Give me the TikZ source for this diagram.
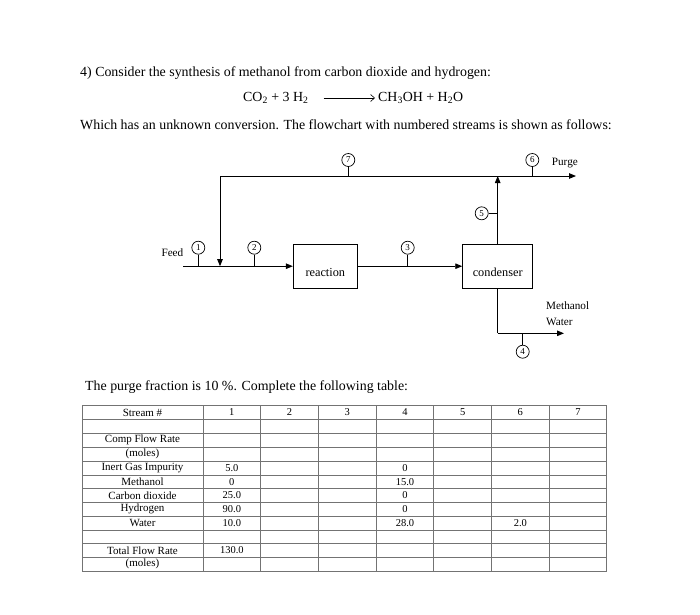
\documentclass[tikz,border=0pt]{standalone}
\usepackage{fontspec}
\setmainfont{Liberation Serif}
\usetikzlibrary{arrows.meta}

\tikzset{
  txt/.style={inner sep=0pt, font=\fontsize{13.9}{16}\selectfont},
  unit/.style={draw, line width=0.9pt, minimum height=44pt, inner sep=0pt, font=\fontsize{12.3}{14}\selectfont},
  streamno/.style={draw, circle, line width=0.7pt, inner sep=0pt, minimum size=13pt, font=\fontsize{9}{10}\selectfont},
  lbl/.style={inner sep=0pt, font=\fontsize{11.2}{13}\selectfont},
  flow/.style={line width=0.9pt, -{Triangle[length=7pt,width=5.5pt]}},
  pipe/.style={line width=0.9pt},
  grid/.style={line width=0.9pt, black!55},
  cell/.style={inner sep=0pt, font=\fontsize{11}{13}\selectfont},
  num/.style={inner sep=0pt, font=\fontsize{10.5}{12}\selectfont}
}
\newcommand{\lowtext}[1]{\raisebox{0pt}[\dimexpr\height+12pt\relax]{#1}}

\begin{document}
\begin{tikzpicture}[x=1pt,y=-1pt]
  \useasboundingbox (0,0) rectangle (700,614);

  % Enunciado
  \node[txt, anchor=west] (q4) at (80,73) {4) Consider the synthesis of methanol from carbon dioxide and hydrogen:};
  \node[txt, anchor=west] (lhs) at (243,98) {CO\textsubscript{2} + 3 H\textsubscript{2}};
  \node[txt, anchor=west] (rhs) at (378,98) {CH\textsubscript{3}OH + H\textsubscript{2}O};
  \draw[line width=0.6pt, -{Straight Barb[length=4pt,width=7pt]}] ([xshift=15pt]lhs.east) -- ([xshift=-3pt]rhs.west);
  \node[txt, anchor=west] (which) at (80,125) {Which has an unknown conversion. The flowchart with numbered streams is shown as follows:};

  % Equipos
  \node[unit, minimum width=64pt] (reaction) at (325.3,266.2) {\lowtext{reaction}};
  \node[unit, minimum width=70pt] (condenser) at (497.7,266.2) {\lowtext{condenser}};

  % Puntos de las corrientes
  \coordinate (feed) at (183,266.2);
  \coordinate (mix) at (220,266.2);
  \coordinate (recyc) at (220,176);
  \coordinate (split) at (497.7,176);
  \coordinate (purge) at (576,176);
  \coordinate (bottom) at (497.7,333.3);
  \coordinate (liquid) at (564,333.3);

  % Lineas de flujo
  \draw[pipe] (feed) -- (mix);
  \draw[flow] (mix) -- (reaction);
  \draw[flow] (reaction) -- (condenser);
  \draw[flow] (condenser) -- (split);
  \draw[flow] (split) -- (purge);
  \draw[pipe] (split) -- (recyc);
  \draw[flow] (recyc) -- (mix);
  \draw[pipe] (condenser) -- (bottom);
  \draw[flow] (bottom) -- (liquid);

  % Numeros de corriente
  \node[streamno] (s1) at (198.3,247.7) {1};
  \node[streamno] (s2) at (254.3,247.7) {2};
  \node[streamno] (s3) at (407.7,247.7) {3};
  \node[streamno] (s4) at (522.7,351.7) {4};
  \node[streamno] (s5) at (481.7,213.3) {5};
  \node[streamno] (s6) at (532.3,160) {6};
  \node[streamno] (s7) at (348.3,160) {7};
  \draw[pipe] (s1) -- (s1 |- feed);
  \draw[pipe] (s2) -- (s2 |- feed);
  \draw[pipe] (s3) -- (s3 |- feed);
  \draw[pipe] (s4) -- (s4 |- bottom);
  \draw[pipe] (s5) -- (s5 -| split);
  \draw[pipe] (s6) -- (s6 |- split);
  \draw[pipe] (s7) -- (s7 |- split);

  % Etiquetas
  \node[lbl, anchor=east] (feedlbl) at (183.5,252.7) {Feed};
  \node[lbl, anchor=west] (purgelbl) at (551.7,163.3) {Purge};
  \node[lbl, anchor=west] (methlbl) at (546,306) {Methanol};
  \node[lbl, anchor=west] (waterlbl) at (546,321.7) {Water};

  % Tabla
  \node[txt, anchor=west] (purgetxt) at (85,387) {The purge fraction is 10 \%. Complete the following table:};
  \foreach \x in {82,203,260.7,318.4,376.1,433.8,491.5,549.2,606.9}
    \draw[grid] (\x,405.5) -- (\x,571);
  \foreach \y in {405.5,419.5,433,447,461,475,488.5,502,516,530,543.5,557,571}
    \draw[grid] (82,\y) -- (606.9,\y);

  \node[cell] (stream) at (142.5,412.5) {Stream \#};
  \foreach \n in {1,...,7}
    \node[num] (h\n) at (174.15+57.7*\n,412.5) {\n};
  \node[cell] (comp) at (142.5,440) {Comp Flow Rate};
  \node[cell] (moles) at (142.5,454) {(moles)};
  \node[cell] (inert) at (142.5,468) {Inert Gas Impurity};
  \node[cell] (meoh) at (142.5,481.75) {Methanol};
  \node[cell] (cotwo) at (142.5,495.25) {Carbon dioxide};
  \node[cell] (htwo) at (142.5,509) {Hydrogen};
  \node[cell] (water) at (142.5,523) {Water};
  \node[cell] (total) at (142.5,550.25) {Total Flow Rate};
  \node[cell] (totmoles) at (142.5,564) {(moles)};

  % Valores conocidos
  \foreach \v/\y [count=\i] in {5.0/468,0/481.75,25.0/495.25,90.0/509,10.0/523,130.0/550.25}
    \node[num] (a\i) at (231.85,\y) {\v};
  \foreach \v/\y [count=\i] in {0/468,15.0/481.75,0/495.25,0/509,28.0/523}
    \node[num] (d\i) at (404.95,\y) {\v};
  \node[num] (f5) at (520.35,523) {2.0};
\end{tikzpicture}
\end{document}
